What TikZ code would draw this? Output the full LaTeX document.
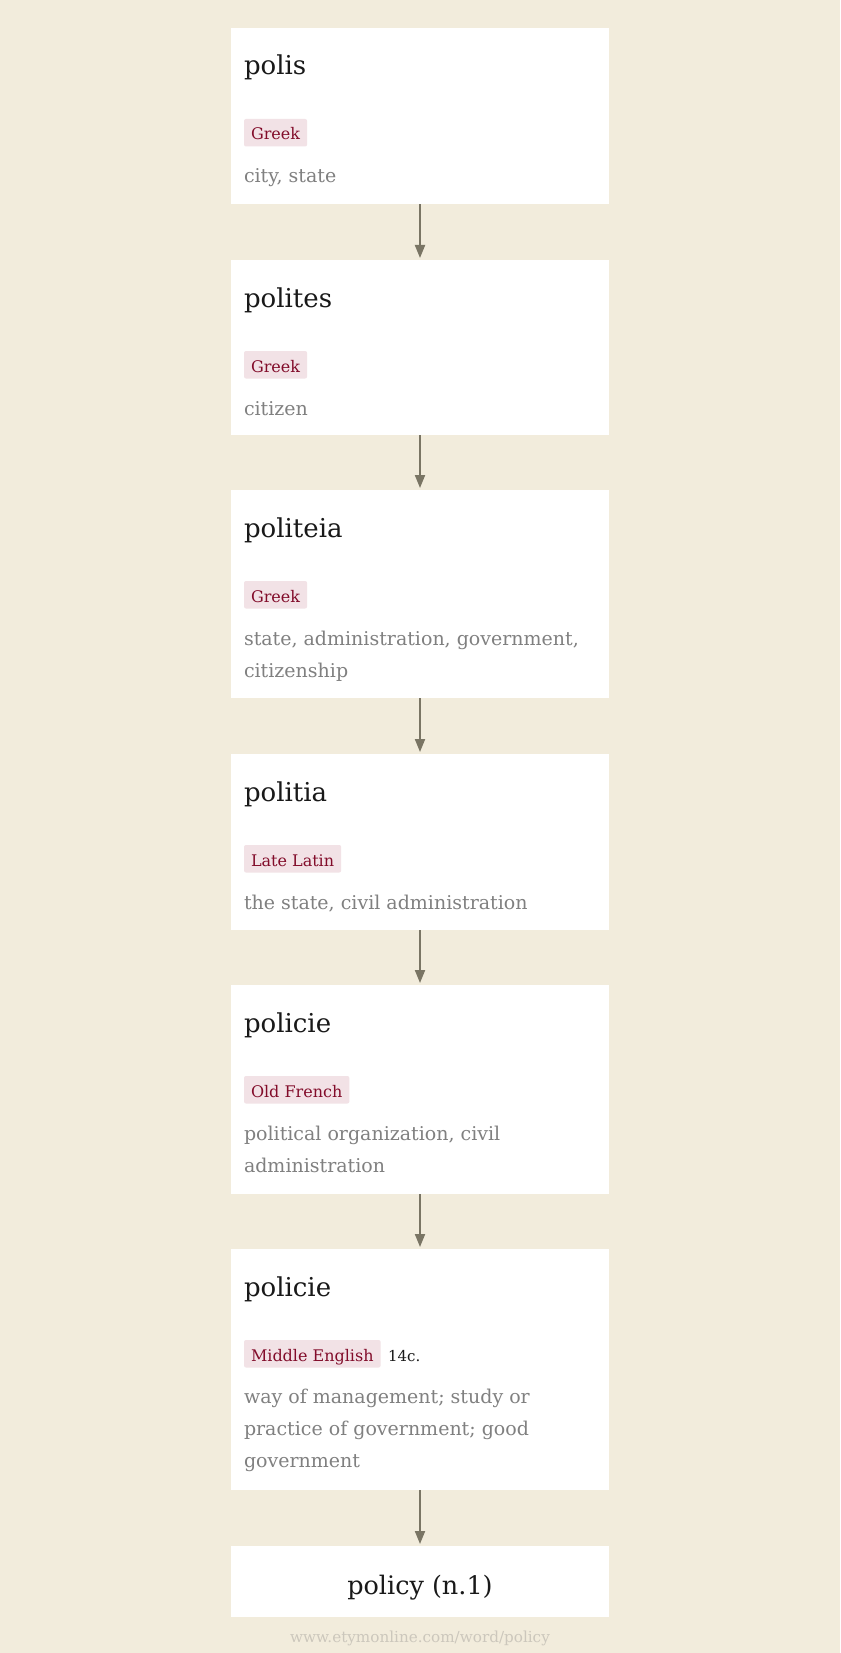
\documentclass[tikz,border=0pt]{standalone}
\usepackage{fontspec}
\setmainfont{DejaVu Serif}
\usetikzlibrary{arrows.meta}
\definecolor{pagebg}{RGB}{242,236,220}
\definecolor{tagbg}{RGB}{242,226,230}
\definecolor{tagfg}{RGB}{130,12,42}
\definecolor{glosscol}{RGB}{128,128,128}
\definecolor{arrowcol}{RGB}{122,117,100}
\definecolor{titlecol}{RGB}{25,25,25}
\definecolor{footcol}{RGB}{204,199,188}
\tikzset{
  card/.style={fill=white, draw=none, minimum width=378pt, inner sep=0pt, anchor=north},
  wordtext/.style={anchor=base west, inner sep=0pt, text=titlecol, font=\fontsize{26}{30}\selectfont},
  langtag/.style={anchor=base west, fill=tagbg, text=tagfg, rounded corners=2pt,
    font=\fontsize{16}{19}\selectfont, inner xsep=7pt, inner ysep=5pt,
    text height=16pt, text depth=1.5pt},
  datetext/.style={anchor=base west, inner sep=0pt, text=titlecol, font=\fontsize{15}{18}\selectfont},
  glosstext/.style={anchor=base west, inner sep=0pt, text=glosscol, font=\fontsize{19}{23}\selectfont},
  flow/.style={draw=arrowcol, line width=2pt, -{Triangle[width=10pt,length=13pt]}, shorten >=2pt},
  foottext/.style={inner sep=0pt, anchor=base, text=footcol, font=\fontsize{15.2}{18}\selectfont}
}
\begin{document}
\begin{tikzpicture}[x=1pt,y=-1pt]
\fill[pagebg] (0,0) rectangle (840,1653);
\useasboundingbox (0,0) rectangle (840,1653);

% cards
\node[card, minimum height=176pt] (b1) at (420,28) {};
\node[card, minimum height=175pt] (b2) at (420,260) {};
\node[card, minimum height=208pt] (b3) at (420,490) {};
\node[card, minimum height=176pt] (b4) at (420,754) {};
\node[card, minimum height=209pt] (b5) at (420,985) {};
\node[card, minimum height=241pt] (b6) at (420,1249) {};
\node[card, minimum height=71pt] (b7) at (420,1546) {};

% card 1
\node[wordtext] (w1) at ([xshift=13pt,yshift=-47pt]b1.north west) {polis};
\node[langtag] (t1) at ([xshift=13pt,yshift=-112pt]b1.north west) {Greek};
\node[glosstext] (g1) at ([xshift=13pt,yshift=-155pt]b1.north west) {city, state};

% card 2
\node[wordtext] (w2) at ([xshift=13pt,yshift=-47pt]b2.north west) {polites};
\node[langtag] (t2) at ([xshift=13pt,yshift=-112pt]b2.north west) {Greek};
\node[glosstext] (g2) at ([xshift=13pt,yshift=-155pt]b2.north west) {citizen};

% card 3
\node[wordtext] (w3) at ([xshift=13pt,yshift=-47pt]b3.north west) {politeia};
\node[langtag] (t3) at ([xshift=13pt,yshift=-112pt]b3.north west) {Greek};
\node[glosstext] (g3a) at ([xshift=13pt,yshift=-155pt]b3.north west) {state, administration, government,};
\node[glosstext] (g3b) at ([xshift=13pt,yshift=-187pt]b3.north west) {citizenship};

% card 4
\node[wordtext] (w4) at ([xshift=13pt,yshift=-47pt]b4.north west) {politia};
\node[langtag] (t4) at ([xshift=13pt,yshift=-112pt]b4.north west) {Late Latin};
\node[glosstext] (g4) at ([xshift=13pt,yshift=-155pt]b4.north west) {the state, civil administration};

% card 5
\node[wordtext] (w5) at ([xshift=13pt,yshift=-47pt]b5.north west) {policie};
\node[langtag] (t5) at ([xshift=13pt,yshift=-112pt]b5.north west) {Old French};
\node[glosstext] (g5a) at ([xshift=13pt,yshift=-155pt]b5.north west) {political organization, civil};
\node[glosstext] (g5b) at ([xshift=13pt,yshift=-187pt]b5.north west) {administration};

% card 6
\node[wordtext] (w6) at ([xshift=13pt,yshift=-47pt]b6.north west) {policie};
\node[langtag] (t6) at ([xshift=13pt,yshift=-112pt]b6.north west) {Middle English};
\node[datetext] (d6) at ([xshift=7pt]t6.base east) {14c.};
\node[glosstext] (g6a) at ([xshift=13pt,yshift=-154pt]b6.north west) {way of management; study or};
\node[glosstext] (g6b) at ([xshift=13pt,yshift=-186pt]b6.north west) {practice of government; good};
\node[glosstext] (g6c) at ([xshift=13pt,yshift=-218pt]b6.north west) {government};

% card 7
\node[wordtext, anchor=base, font=\fontsize{25.5}{30}\selectfont] (w7) at ([yshift=-48pt]b7.north) {policy (n.1)};

% arrows
\draw[flow] (b1.south) -- (b2.north);
\draw[flow] (b2.south) -- (b3.north);
\draw[flow] (b3.south) -- (b4.north);
\draw[flow] (b4.south) -- (b5.north);
\draw[flow] (b5.south) -- (b6.north);
\draw[flow] (b6.south) -- (b7.north);

% footer
\node[foottext] (foot) at ([yshift=-25pt]b7.south) {www.etymonline.com/word/policy};
\end{tikzpicture}
\end{document}
